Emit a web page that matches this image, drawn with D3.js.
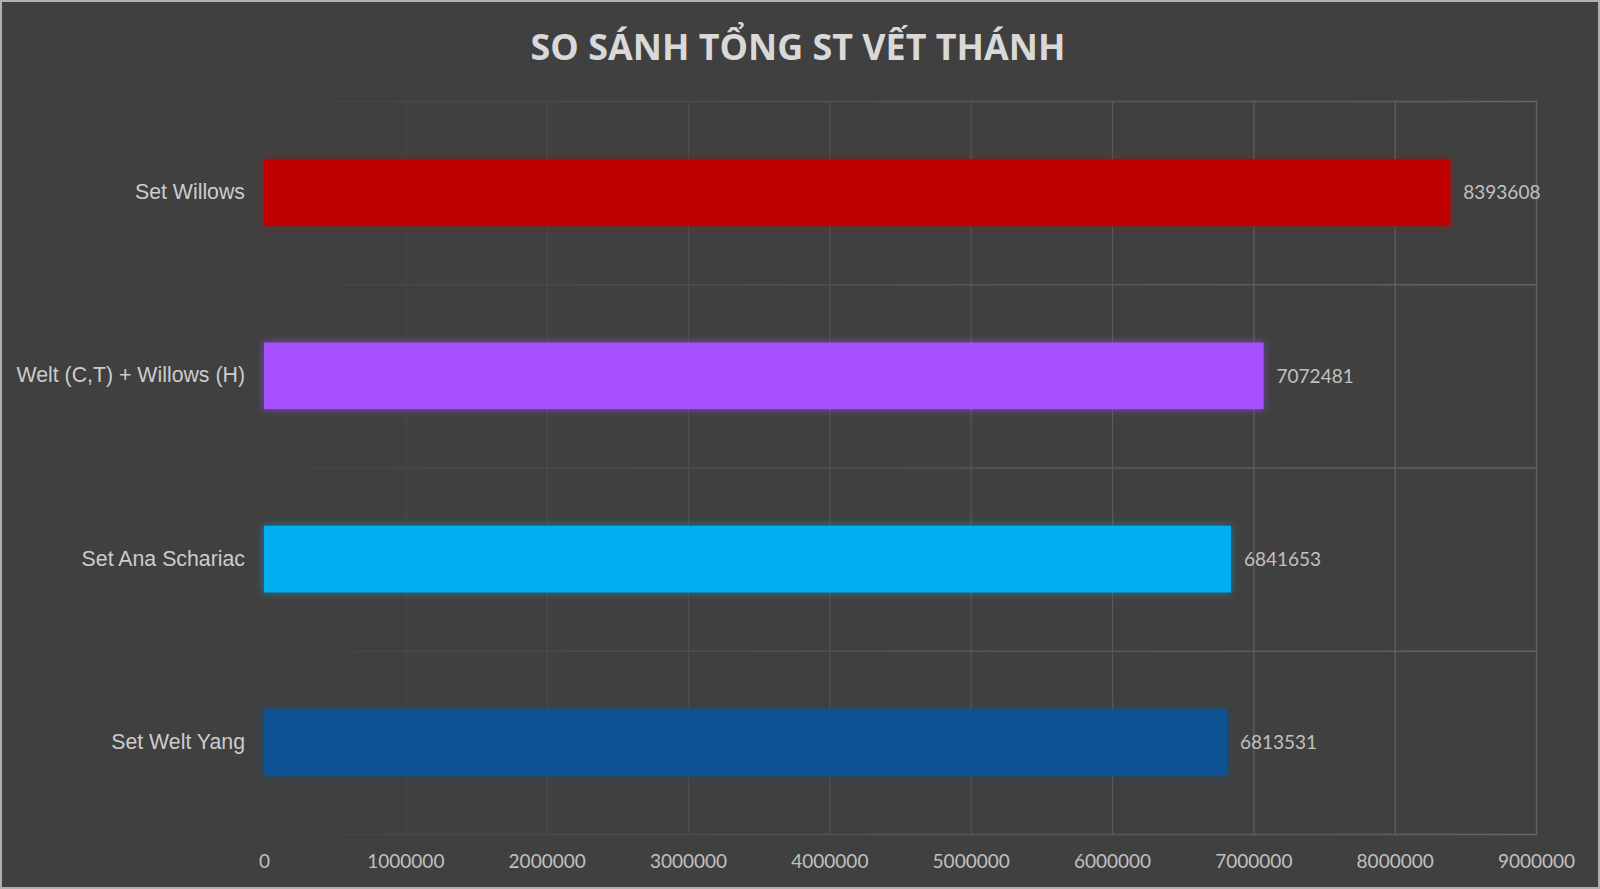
<!DOCTYPE html>
<html>
<head>
<meta charset="utf-8">
<script src="https://cdn.jsdelivr.net/npm/d3@7"></script>
<style>
  html, body { margin: 0; padding: 0; background: #404040; }
  svg { display: block; }
</style>
</head>
<body>
<svg id="chart"></svg>
<script>
// data
var categories = ["Set Willows", "Welt (C,T) + Willows (H)", "Set Ana Schariac", "Set Welt Yang"],
    values = [8393608, 7072481, 6841653, 6813531],
    barColors = ["#C00000", "#A64FFF", "#00B0F0", "#0B5394"],
    tickValues = [0, 1000000, 2000000, 3000000, 4000000, 5000000, 6000000, 7000000, 8000000, 9000000],
    title = "SO SÁNH TỔNG ST VẾT THÁNH";

var W = 1600, H = 889,
    margin = {top: 101, right: 64, bottom: 55, left: 264},
    svg = d3.select("#chart").attr("width", W).attr("height", H);

svg.append("rect")
    .attr("x", 1).attr("y", 1)
    .attr("width", W - 2).attr("height", H - 2)
    .attr("fill", "#404040")
    .attr("stroke", "#b0b0b0")
    .attr("stroke-width", 2);

var x = d3.scaleLinear()
    .domain([0, 9000000])
    .range([margin.left, W - margin.right]);

var y = d3.scaleBand()
    .domain(categories)
    .range([margin.top, H - margin.bottom])
    .padding(0);

var barH = y.bandwidth() * 0.364;

var defs = svg.append("defs");

// grid gets brighter to the right
var grad = defs.append("linearGradient")
    .attr("id", "gridfade")
    .attr("gradientUnits", "userSpaceOnUse")
    .attr("x1", x(0)).attr("x2", x(9000000))
    .attr("y1", 0).attr("y2", 0);
grad.append("stop").attr("offset", "0%").attr("stop-color", "#434343");
grad.append("stop").attr("offset", "100%").attr("stop-color", "#636363");

var glow = defs.append("filter")
    .attr("id", "glow")
    .attr("x", "-5%").attr("y", "-40%")
    .attr("width", "110%").attr("height", "180%");
glow.append("feGaussianBlur")
    .attr("in", "SourceGraphic")
    .attr("stdDeviation", 4)
    .attr("result", "blur");
glow.append("feComponentTransfer")
    .attr("in", "blur")
    .attr("result", "soft")
    .append("feFuncA").attr("type", "linear").attr("slope", 0.55);
var merge = glow.append("feMerge");
merge.append("feMergeNode").attr("in", "soft");
merge.append("feMergeNode").attr("in", "SourceGraphic");

var gridColor = d3.scaleLinear()
    .domain([0, 9000000])
    .range(["#434343", "#646464"]);

// vertical grid
svg.append("g")
    .selectAll("line")
    .data(tickValues)
    .enter()
    .append("line")
    .attr("x1", function(d) { return x(d) + 0.5; })
    .attr("x2", function(d) { return x(d) + 0.5; })
    .attr("y1", margin.top)
    .attr("y2", H - margin.bottom)
    .attr("stroke", function(d) { return gridColor(d); })
    .attr("stroke-width", 1.3);

// horizontal grid at category boundaries
var bounds = categories.map(function(c) { return y(c); }).concat([H - margin.bottom]);
svg.append("g")
    .selectAll("line")
    .data(bounds)
    .enter()
    .append("line")
    .attr("x1", x(0))
    .attr("x2", x(9000000) + 1)
    .attr("y1", function(d) { return d + 0.5; })
    .attr("y2", function(d) { return d + 0.5; })
    .attr("stroke", "url(#gridfade)")
    .attr("stroke-width", 1.3);

// bars
svg.append("g")
    .selectAll("rect")
    .data(values)
    .enter()
    .append("rect")
    .attr("x", x(0))
    .attr("y", function(d, i) { return y(categories[i]) + (y.bandwidth() - barH) / 2; })
    .attr("width", function(d) { return x(d) - x(0); })
    .attr("height", barH)
    .attr("fill", function(d, i) { return barColors[i]; })
    .attr("filter", "url(#glow)");

// value labels
svg.append("g")
    .selectAll("text")
    .data(values)
    .enter()
    .append("text")
    .attr("x", function(d) { return x(d) + 13; })
    .attr("y", function(d, i) { return y(categories[i]) + y.bandwidth() / 2; })
    .attr("dy", "0.35em")
    .attr("fill", "#c0c0c0")
    .style("font-family", "Lato, 'Open Sans', sans-serif")
    .style("font-size", "19px")
    .text(function(d) { return d; });

// category labels
svg.append("g")
    .selectAll("text")
    .data(categories)
    .enter()
    .append("text")
    .attr("x", margin.left - 19)
    .attr("y", function(d) { return y(d) + y.bandwidth() / 2 - 1; })
    .attr("dy", "0.35em")
    .attr("text-anchor", "end")
    .attr("fill", "#cccccc")
    .style("font-family", "'Liberation Sans', Arial, sans-serif")
    .style("font-size", "21.3px")
    .text(function(d) { return d; });

// x axis labels
var xAxis = d3.axisBottom(x)
    .tickValues(tickValues)
    .tickFormat(d3.format("d"))
    .tickSize(0)
    .tickPadding(0);

var ax = svg.append("g")
    .attr("transform", "translate(0," + (H - margin.bottom + 27) + ")")
    .call(xAxis);
ax.select(".domain").remove();
ax.selectAll("text")
    .attr("fill", "#c0c0c0")
    .attr("dy", "0.35em")
    .style("font-family", "Lato, 'Open Sans', sans-serif")
    .style("font-size", "19px");

// title
var t = svg.append("text")
    .attr("x", 798)
    .attr("y", 60)
    .attr("text-anchor", "middle")
    .attr("fill", "#d9d9d9")
    .style("font-family", "'Open Sans', sans-serif")
    .style("font-weight", "bold")
    .style("font-size", "36px")
    .text(title);
var tw = t.node().getComputedTextLength();
t.style("font-size", (36 * 535 / tw) + "px");
</script>
</body>
</html>
